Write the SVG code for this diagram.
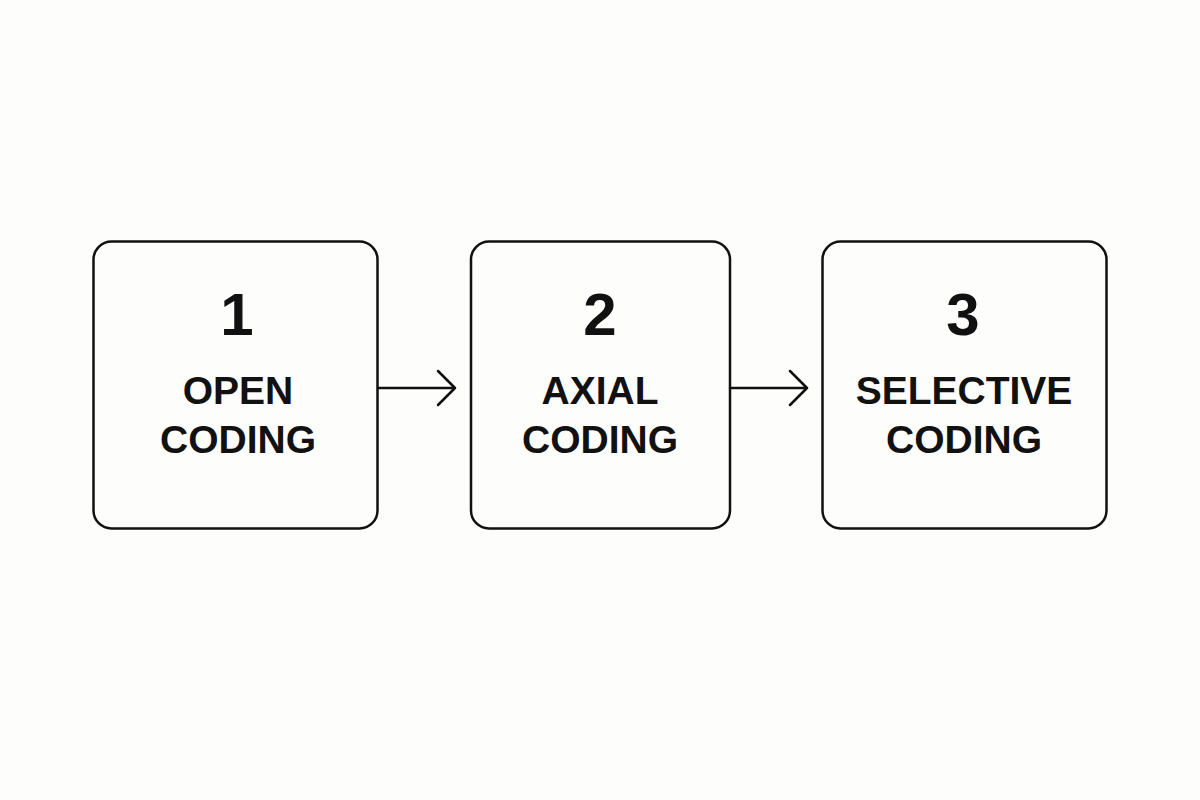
<svg xmlns="http://www.w3.org/2000/svg" width="1200" height="800" viewBox="0 0 1200 800">
<style>
.box{fill:#fdfdfb;stroke:#111;stroke-width:2.5}
.num{font-family:"Liberation Sans",Arial,sans-serif;font-weight:bold;font-size:60px;fill:#111;text-anchor:middle}
.lbl{font-family:"Liberation Sans",Arial,sans-serif;font-weight:bold;font-size:39px;fill:#111;text-anchor:middle}
.conn{fill:none;stroke:#111;stroke-width:2.5;stroke-linecap:round;stroke-linejoin:round}
</style>
<rect width="1200" height="800" fill="#fdfdfb"/>
<g id="node1">
<rect class="box" x="93.5" y="241.5" width="284" height="287" rx="18"/>
<text class="num" x="237" y="335">1</text>
<text class="lbl" x="238" y="404">OPEN</text>
<text class="lbl" x="238" y="453">CODING</text>
</g>
<g id="node2">
<rect class="box" x="471" y="241.5" width="259" height="287" rx="18"/>
<text class="num" x="600" y="335">2</text>
<text class="lbl" x="600" y="404">AXIAL</text>
<text class="lbl" x="600" y="453">CODING</text>
</g>
<g id="node3">
<rect class="box" x="822.5" y="241.5" width="284" height="287" rx="18"/>
<text class="num" x="963" y="335">3</text>
<text class="lbl" x="964" y="404">SELECTIVE</text>
<text class="lbl" x="964" y="453">CODING</text>
</g>
<g id="connectors">
<path class="conn" d="M378 388 H455 M438 371 L455 388 L438 405"/>
<path class="conn" d="M730 388 H807 M790 371 L807 388 L790 405"/>
</g>
</svg>
